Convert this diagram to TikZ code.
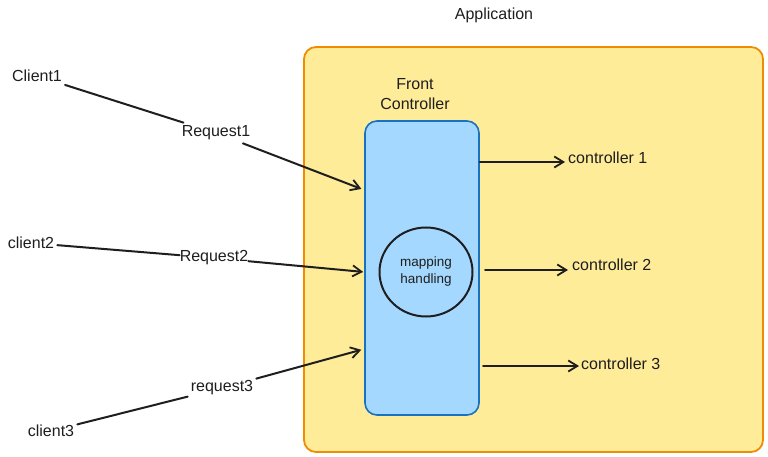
\documentclass[tikz,border=0pt]{standalone}
\usepackage{fontspec}
\setmainfont{Liberation Sans}
\usetikzlibrary{arrows.meta,shapes.geometric}
\definecolor{ink}{HTML}{1E1E1E}
\definecolor{appfill}{HTML}{FFEC99}
\definecolor{appline}{HTML}{F08C00}
\definecolor{fcfill}{HTML}{A5D8FF}
\definecolor{fcline}{HTML}{1971C2}
\tikzset{
  lbl/.style={font=\fontsize{16}{18}\selectfont, text=ink, inner sep=3pt},
  conn/.style={draw=ink, line width=2pt, line cap=round},
  arr/.style={conn, -{Straight Barb[length=9pt,width=11pt,line width=1.8pt]}},
}
\begin{document}
\begin{tikzpicture}[x=1pt,y=-1pt]
\useasboundingbox (0,0) rectangle (768,457);
% application container
\node[draw=appline, fill=appfill, line width=1.8pt, rounded corners=12pt, minimum width=459pt, minimum height=405pt, inner sep=0pt] (app) at (533.5,249.5) {};
\node[lbl] (apptitle) at (494,15) {Application};
% front controller
\node[draw=fcline, fill=fcfill, line width=1.6pt, rounded corners=12pt, minimum width=114pt, minimum height=294pt, inner sep=0pt] (fc) at (422,268) {};
\node[lbl, align=center, font=\fontsize{16}{20}\selectfont] (fctitle) at (415,94) {Front\\Controller};
\node[draw=ink, line width=2pt, ellipse, minimum width=93pt, minimum height=89pt, inner sep=0pt, align=center, font=\fontsize{13.5}{17}\selectfont, text=ink] (map) at (426,272) {mapping\\handling};
% clients
\node[lbl] (c1) at (37,76) {Client1};
\node[lbl] (c2) at (31,243) {client2};
\node[lbl] (c3) at (51,431) {client3};
% request labels
\node[lbl] (r1) at (216,133) {Request1};
\node[lbl, inner sep=0pt] (r2) at (214,258) {Request2};
\node[lbl] (r3) at (222,388) {request3};
% entry points on front controller
\coordinate (in1) at (fc.west |- 0,190);
\coordinate (in2) at (fc.west |- 0,272);
\coordinate (in3) at (fc.west |- 0,349);
\draw[conn] (c1) -- (r1);
\draw[arr, shorten >=3pt] (r1) -- (in1);
\draw[conn] (c2) -- (r2);
\draw[arr, shorten >=1pt] (r2) -- (in2);
\draw[conn] (c3) -- (r3);
\draw[arr, shorten >=3pt] (r3) -- (in3);
% controllers
\node[lbl, anchor=west] (k1) at (565,158) {controller 1};
\node[lbl, anchor=west] (k2) at (569,265) {controller 2};
\node[lbl, anchor=west] (k3) at (578,364) {controller 3};
\coordinate (o1) at (fc.east |- 0,162);
\coordinate (o2) at (485,270);
\coordinate (o3) at (483,366);
\draw[arr] (o1) -- (k1.west |- o1);
\draw[arr] (o2) -- ([xshift=-1pt]k2.west |- o2);
\draw[arr] (o3) -- ([xshift=1pt]k3.west |- o3);
\end{tikzpicture}
\end{document}
